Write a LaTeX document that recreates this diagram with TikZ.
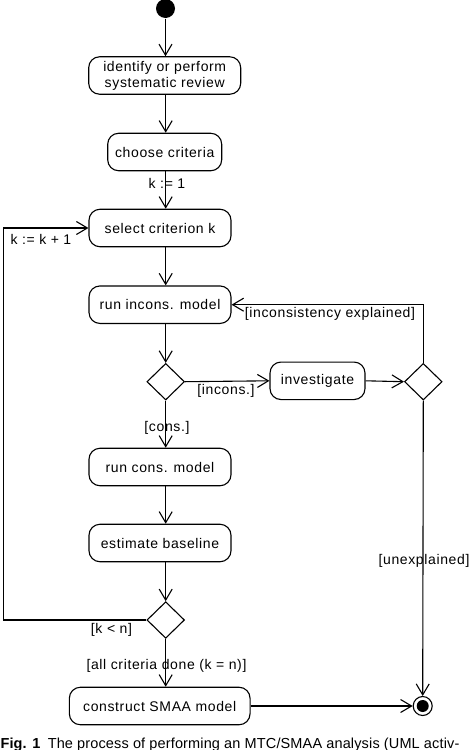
\documentclass[tikz,border=0pt]{standalone}
\usepackage{fontspec}
\setmainfont{Liberation Sans}
\newfontfamily\diag[LetterSpace=4.5]{Liberation Sans}
\newfontfamily\capfont[LetterSpace=1]{Liberation Sans}
\usetikzlibrary{arrows.meta,shapes.geometric,calc}
\begin{document}
\begin{tikzpicture}[x=1pt,y=-1pt, line width=1.1pt,
  act/.style={draw, rounded corners=11pt, minimum height=37.5pt, inner sep=0pt, align=center, font=\diag\fontsize{14}{16}\selectfont},
  dec/.style={draw, diamond, minimum width=37.6pt, minimum height=36.6pt, inner sep=0pt},
  flow/.style={-{Straight Barb[length=11pt,width=13pt,line width=1.1pt]}},
  lbl/.style={font=\diag\fontsize{14}{16}\selectfont, inner sep=0pt}]
\useasboundingbox (0,0) rectangle (474,750);
\clip (0,0) rectangle (474,750);
\coordinate (ax) at (165.7,0);
\coordinate (loopx) at (3.3,0);
% nodes
\node[circle, fill, inner sep=0pt, minimum size=19pt] (start) at (165.5,8.5) {};
\node[act, minimum width=152pt] (b1) at (164.7,75.5) {identify or perform\\systematic review};
\node[act, minimum width=114pt] (b2) at (164.7,152) {choose criteria};
\node[act, minimum width=142pt] (b3) at (160,228) {select criterion k};
\node[act, minimum width=142pt] (b4) at (160,304.7) {run incons. model};
\node[dec] (d1) at (165.7,381.7) {};
\node[act, minimum width=95pt] (inv) at (317.5,380.8) {investigate};
\node[dec] (d2) at (423.3,381.7) {};
\node[act, minimum width=142pt] (b5) at (160,467) {run cons. model};
\node[act, minimum width=142pt] (b6) at (160,543) {estimate baseline};
\node[dec] (d3) at (165.7,620) {};
\node[act, minimum width=180.7pt] (b7) at (159.7,706) {construct SMAA model};
\node[circle, draw, minimum size=19pt, inner sep=0pt] (end) at (422.7,706) {};
\node[circle, fill, minimum size=12pt, inner sep=0pt] (endin) at (end) {};
% labels
\node[lbl] (l1) at (167,183) {k := 1};
\node[lbl, anchor=west] (l2) at (10,239) {k := k + 1};
\node[lbl] (l3) at (330,314) {[inconsistency explained]};
\node[lbl] (l4) at (226,390.7) {[incons.]};
\node[lbl] (l5) at (167,428.3) {[cons.]};
\node[lbl] (l6) at (424,561) {[unexplained]};
\node[lbl] (l7) at (111.5,630) {[k < n]};
\node[lbl] (l8) at (166.5,666) {[all criteria done (k = n)]};
\node[anchor=base west, inner sep=0pt, font=\capfont\fontsize{14.5}{17}\selectfont] (cap) at (0,748.5) {\textbf{Fig. 1}\enspace The process of performing an MTC/SMAA analysis (UML activ-};
% connectors
\draw[flow] (start) -- (b1.north -| start);
\draw[flow] (b1.south -| ax) -- (b2.north -| ax);
\draw[flow] (b2.south -| ax) -- (b3.north -| ax);
\draw[flow] (b3.south -| ax) -- (b4.north -| ax);
\draw[flow] (b4.south -| ax) -- (d1.north);
\draw[flow] (d1.east) -- (inv.west);
\draw[flow] (inv.east) -- (d2.west);
\draw[flow] (d2.north) |- (b4.east);
\draw[flow] (d1.south) -- (b5.north -| d1);
\draw[flow] (b5.south -| ax) -- (b6.north -| ax);
\draw[flow] (b6.south -| ax) -- (d3.north);
\draw[flow] (d3.west) -- (d3.west -| loopx) -- (loopx |- b3.west) -- (b3.west);
\draw[flow] (d3.south) -- (b7.north -| d3);
\draw[flow] (b7.east) -- (end.west);
\draw[flow] (d2.south) -- (end.north);
\end{tikzpicture}
\end{document}
